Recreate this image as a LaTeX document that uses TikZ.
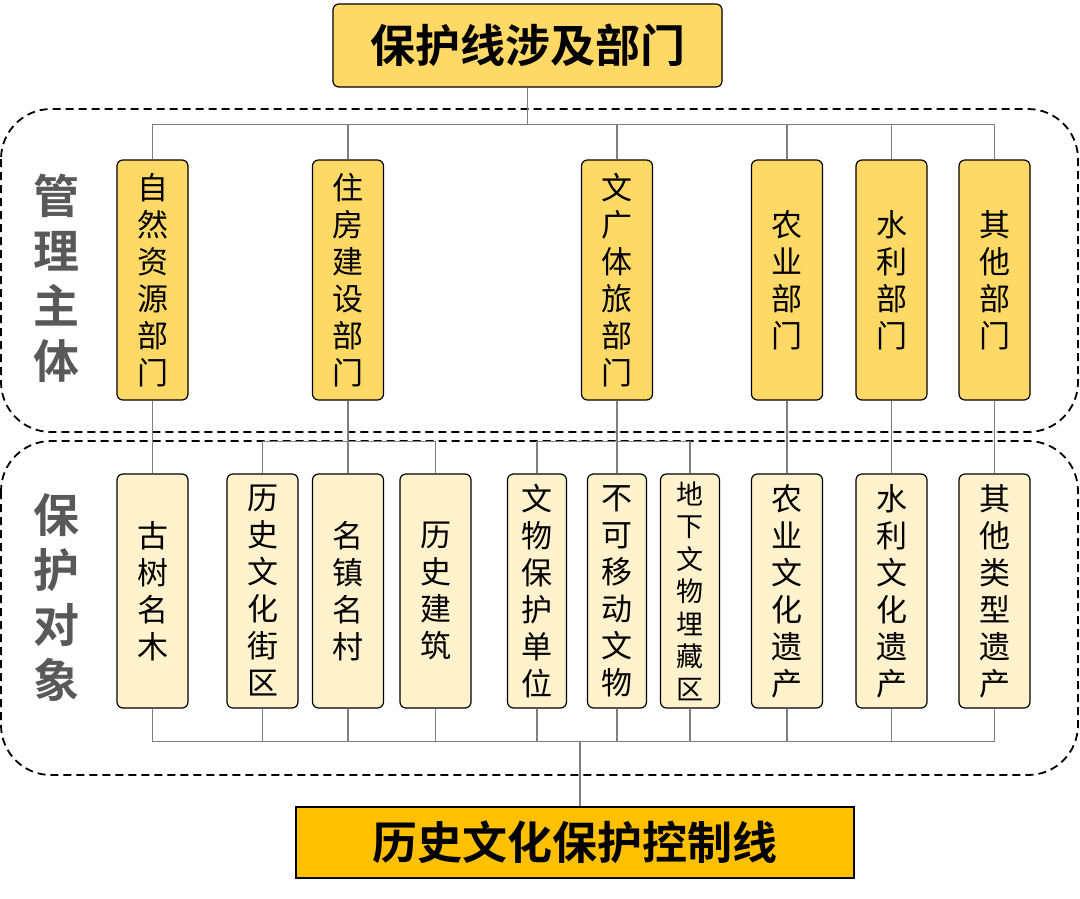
\documentclass[tikz,border=0pt]{standalone}
\usepackage{fontspec}
\setmainfont{Noto Sans CJK SC}[BoldFont={Noto Sans CJK SC Bold}]
\usetikzlibrary{positioning}
\definecolor{gold}{HTML}{FFD966}
\definecolor{cream}{HTML}{FFF2CC}
\definecolor{amber}{HTML}{FFC000}
\definecolor{labgray}{HTML}{595959}
\definecolor{linkgray}{HTML}{7F7F7F}

\begin{document}
\begin{tikzpicture}[x=1pt, y=1pt, node distance=72.8pt and 20pt]
\tikzstyle{dept}=[rectangle, rounded corners=6pt, draw, line width=1.2pt, fill=gold, minimum width=71pt, minimum height=240pt, inner sep=0pt, align=center, font=\fontsize{31}{37}\selectfont]
\tikzstyle{item}=[dept, fill=cream, minimum height=234pt]
\tikzstyle{narrow}=[minimum width=59pt]
\tikzstyle{title}=[rectangle, draw, line width=1.2pt, inner sep=0pt, font=\bfseries\fontsize{45}{54}\selectfont]
\tikzstyle{side}=[text=labgray, align=center, inner sep=0pt, font=\bfseries\fontsize{46}{55}\selectfont]
\tikzstyle{zone}=[draw, line width=1.8pt, dash pattern=on 8pt off 5pt, rounded corners=50pt]
\tikzstyle{link}=[draw=linkgray, line width=1.3pt]
\useasboundingbox (0,0) rectangle (1080,-898);
% dashed groups
\draw[zone] (1,-109) rectangle (1078,-432);
\draw[zone] (1,-441) rectangle (1078,-775);
\node[title, rounded corners=6pt, fill=gold, minimum width=389pt, minimum height=83pt] (top) at (527.5,-45.5) {保护线涉及部门};
\node[side] (manage) at (57,-278) {管\\理\\主\\体};
\node[side] (protect) at (57,-598) {保\\护\\对\\象};
% departments
\node[dept] (nat) at (152.5,-280) {自\\然\\资\\源\\部\\门};
\node[dept, right=123.3pt of nat] (hou) {住\\房\\建\\设\\部\\门};
\node[dept, right=196.8pt of hou] (cul) {文\\广\\体\\旅\\部\\门};
\node[dept, right=97.8pt of cul] (agr) {农\\业\\部\\门};
\node[dept, right=32.3pt of agr] (wat) {水\\利\\部\\门};
\node[dept, right=30.8pt of wat] (oth) {其\\他\\部\\门};
% protected objects
\node[item, below=of nat] (tree) {古\\树\\名\\木};
\node[item, below=of hou] (town) {名\\镇\\名\\村};
\node[item, left=13.3pt of town] (street) {历\\史\\文\\化\\街\\区};
\node[item, right=15.3pt of town] (bldg) {历\\史\\建\\筑};
\node[item, narrow, below=of cul] (relic) {不\\可\\移\\动\\文\\物};
\node[item, narrow, left=19.8pt of relic] (unit) {文\\物\\保\\护\\单\\位};
\node[item, narrow, right=12.8pt of relic, font=\fontsize{27}{32.5}\selectfont] (buried) {地\\下\\文\\物\\埋\\藏\\区};
\node[item, below=of agr] (agrh) {农\\业\\文\\化\\遗\\产};
\node[item, below=of wat] (wath) {水\\利\\文\\化\\遗\\产};
\node[item, below=of oth] (othh) {其\\他\\类\\型\\遗\\产};
\node[title, fill=amber, minimum width=558pt, minimum height=71pt] (ctrl) at (575,-842.5) {历史文化保护控制线};
% connectors
\foreach \n in {nat,hou,cul,agr,wat,oth}
  \draw[link] (top.south) -- ++(0,-37) -| (\n.north);
\foreach \n in {street,town,bldg}
  \draw[link] (hou.south) -- ++(0,-41) -| (\n.north);
\foreach \n in {unit,relic,buried}
  \draw[link] (cul.south) -- ++(0,-41) -| (\n.north);
\draw[link] (nat) -- (tree);
\draw[link] (agr) -- (agrh);
\draw[link] (wat) -- (wath);
\draw[link] (oth) -- (othh);
\foreach \n in {tree,street,town,bldg,unit,relic,buried,agrh,wath,othh}
  \draw[link] (\n.south) -- ++(0,-33) -| ([xshift=5pt]ctrl.north);
\end{tikzpicture}
\end{document}
